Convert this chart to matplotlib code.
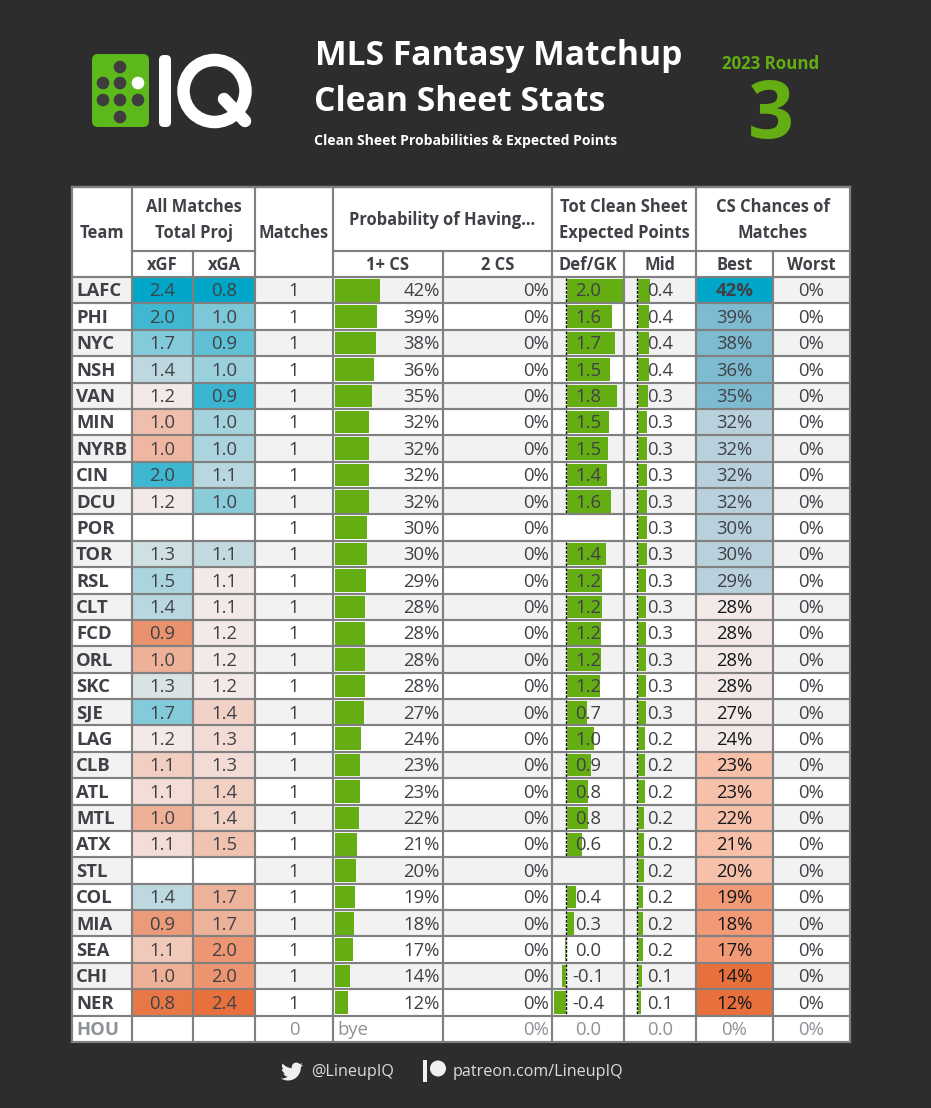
import numpy as np
import matplotlib
matplotlib.use('Agg')
import matplotlib.pyplot as plt
from matplotlib.colors import LinearSegmentedColormap, ListedColormap, BoundaryNorm
from matplotlib.patches import Rectangle, FancyBboxPatch, Circle, PathPatch
from matplotlib.path import Path

# Noto Sans has no bold cut here, Open Sans does
plt.rcParams['font.family'] = ['Open Sans', 'DejaVu Sans']

teams = ['LAFC', 'PHI', 'NYC', 'NSH', 'VAN', 'MIN', 'NYRB', 'CIN', 'DCU', 'POR', 'TOR', 'RSL', 'CLT', 'FCD', 'ORL',
         'SKC', 'SJE', 'LAG', 'CLB', 'ATL', 'MTL', 'ATX', 'STL', 'COL', 'MIA', 'SEA', 'CHI', 'NER', 'HOU']
xgf = [2.40, 2.00, 1.70, 1.40, 1.20, 1.02, 1.00, 2.02, 1.20, None, 1.30, 1.50, 1.42, 0.90, 0.98,
       1.27, 1.70, 1.20, 1.08, 1.14, 0.98, 1.14, None, 1.40, 0.92, 1.06, 0.98, 0.82, None]
xga = [0.80, 0.96, 0.92, 1.00, 0.88, 1.02, 1.04, 1.08, 0.98, None, 1.10, 1.14, 1.14, 1.18, 1.20,
       1.20, 1.38, 1.30, 1.30, 1.40, 1.40, 1.50, None, 1.70, 1.70, 1.98, 2.00, 2.40, None]
matches = [1] * 28 + [0]
cs_one = [42, 39, 38, 36, 35, 32, 32, 32, 32, 30, 30, 29, 28, 28, 28,
          28, 27, 24, 23, 23, 22, 21, 20, 19, 18, 17, 14, 12, 0]
cs_two = [0] * 29
def_gk = [2.00, 1.60, 1.70, 1.53, 1.77, 1.49, 1.46, 1.42, 1.56, None, 1.39, 1.25, 1.25, 1.22, 1.22,
          1.18, 0.73, 0.98, 0.87, 0.77, 0.77, 0.56, None, 0.36, 0.29, -0.03, -0.13, -0.40, None]
mid = [0.40, 0.37, 0.37, 0.36, 0.33, 0.31, 0.31, 0.31, 0.31, 0.31, 0.31, 0.28, 0.28, 0.28, 0.28,
       0.28, 0.28, 0.24, 0.24, 0.24, 0.22, 0.22, 0.20, 0.17, 0.17, 0.17, 0.14, 0.11, None]
worst = [0] * 29

BG = '#2d2d2d'
GRID = '#808080'
TXT = '#3f4146'
GREY_TXT = '#8e9196'
GREEN = '#64ae14'
LOGO_GREEN = '#5cb81b'
STRIPE = '#f2f2f2'
FS = 13.3
HFS = 11.9

# column edges and rows, in pixels of the final picture
X = [72, 132, 193, 255, 333, 443, 552, 624, 696, 773, 850]
Y_TOP, Y_MID, Y_HEAD, Y_BOT = 187, 251, 277, 1042
ROW_H = (Y_BOT - Y_HEAD) / len(teams)


def value_cmap(vals, cols):
    lo, hi = vals[0], vals[-1]
    nodes = [(v - lo) / (hi - lo) for v in vals]
    cm = LinearSegmentedColormap.from_list('heat', list(zip(nodes, cols)))
    return lambda v: cm((v - lo) / (hi - lo))


xgf_col = value_cmap([0.8, 0.9, 1.0, 1.1, 1.2, 1.3, 1.4, 1.5, 1.7, 2.0, 2.4],
                     ['#e8703c', '#ea9470', '#efb9a4', '#f3d5cb', '#f3eae8', '#cfe0e3', '#bdd8df', '#abd5de',
                      '#84cada', '#42b8d2', '#00a7c8'])
xga_col = value_cmap([0.8, 0.9, 1.0, 1.1, 1.14, 1.2, 1.3, 1.4, 1.5, 1.7, 2.0, 2.4],
                     ['#00a7c8', '#4fbbd3', '#9ed1dc', '#c1d9e0', '#f3eae8', '#f3eae8', '#f3dcd6', '#f2cfc3',
                      '#f0c3b1', '#edb29b', '#ec9470', '#e8703c'])
best_cmap = ListedColormap(['#e8703c', '#f29a76', '#f6c0a9', '#f3eae8', '#b9d1dc', '#7ebad0', '#00a7c8'])
best_norm = BoundaryNorm([0, 15, 19.5, 23.5, 28.5, 33, 40, 50], best_cmap.N)

fig = plt.figure(figsize=(9.31, 11.08), dpi=100, facecolor=BG)
ax = fig.add_axes([0, 0, 1, 1])
ax.set_xlim(0, 931)
ax.set_ylim(1108, 0)
ax.axis('off')


def cell(x0, x1, y0, y1, color, z=1):
    ax.add_patch(Rectangle((x0, y0), x1 - x0, y1 - y0, facecolor=color, edgecolor='none', zorder=z))


def put(x, y, s, ha='center', color=TXT, weight='normal', size=FS):
    ax.text(x, y, s, ha=ha, va='baseline', color=color, fontweight=weight, fontsize=size, zorder=6)


def fmt(v):
    s = f'{v:.1f}'
    return '0.0' if s == '-0.0' else s


def draw_logo():
    ax.add_patch(FancyBboxPatch((95, 57), 51, 67, boxstyle='round,pad=3,rounding_size=6',
                                facecolor=LOGO_GREEN, edgecolor='none'))
    for dx, dy in [(120, 67), (103, 83), (120, 83), (103, 100), (120, 100), (138, 100), (120, 117)]:
        ax.add_patch(Circle((dx, dy), 6.3, facecolor='#3d3d3d', edgecolor='none'))
    ax.add_patch(Circle((138, 83), 6.3, facecolor='white', edgecolor='none'))
    ax.add_patch(FancyBboxPatch((164, 60), 2, 62, boxstyle='round,pad=5,rounding_size=5',
                                facecolor='white', edgecolor='none'))
    ax.add_patch(Circle((214.5, 91), 31, facecolor='none', edgecolor='white', linewidth=9))
    ax.plot([224, 245], [99, 121], color='white', lw=9, solid_capstyle='round')


def draw_bird(x0, y0, k):
    M, L, C, Z = Path.MOVETO, Path.LINETO, Path.CURVE4, Path.CLOSEPOLY
    pts = [(23.95, 4.57), (21.13, 5.35), (23.29, 2.62), (22.34, 3.18), (21.29, 3.58), (20.16, 3.81),
           (16.71, 0.13), (10.65, 3.39), (11.78, 8.29), (7.69, 8.1), (4.07, 6.13), (1.64, 3.16),
           (0.97, 5.64), (0.97, 7.35), (1.84, 8.85), (3.16, 9.73), (0.93, 9.12), (0.93, 9.18),
           (0.93, 11.56), (2.63, 13.55), (4.88, 14.0), (2.67, 14.09), (3.3, 16.05), (5.1, 17.45), (7.27, 17.51),
           (5.6, 18.8), (3.5, 19.61), (1.17, 19.61), (0.78, 19.61), (0.39, 19.59), (0, 19.54),
           (2.2, 20.95), (4.8, 21.75), (7.56, 21.75), (16.61, 21.75), (21.56, 14.26), (21.56, 7.77),
           (21.56, 7.56), (21.56, 7.35), (21.54, 7.14), (22.5, 6.45), (23.35, 5.55), (23.95, 4.57), (23.95, 4.57)]
    codes = [M, L, L, C, C, C, C, C, C, C, C, C, L, C, C, C, L, L, C, C, C, L, C, C, C,
             C, C, C, C, C, C, C, C, C, C, C, C, C, C, C, C, C, C, Z]
    verts = [(x0 + px * k, y0 + py * k) for px, py in pts]
    ax.add_patch(PathPatch(Path(verts, codes), facecolor='#f0f0f0', edgecolor='none'))


# heading
draw_logo()
put(315, 65, 'MLS Fantasy Matchup', ha='left', color='white', weight='bold', size=24.2)
put(314, 111, 'Clean Sheet Stats', ha='left', color='white', weight='bold', size=24.2)
put(314, 145, 'Clean Sheet Probabilities & Expected Points', ha='left', color='white', weight='bold', size=10.1)
put(771, 69, '2023 Round', color=GREEN, weight='bold', size=12.2)
put(771, 138, '3', color=GREEN, weight='bold', size=58)

# table background
cell(X[0], X[-1], Y_TOP, Y_BOT, 'white')

DEF_ZERO, DEF_SCALE = 565.5, 29.0
MID_ZERO, MID_SCALE = 637.4, 31.0
CS_LEFT, CS_SCALE = 335, 1.07

for i, team in enumerate(teams):
    y0 = Y_HEAD + i * ROW_H
    y1 = y0 + ROW_H
    base = y0 + ROW_H / 2 + 6.3
    bye = matches[i] == 0
    col = GREY_TXT if bye else TXT
    if i % 2 == 0 and not bye:
        cell(X[0], X[-1], y0, y1, STRIPE)

    put(X[0] + 4, base, team, ha='left', color=col, weight='bold')

    for v, pick, x0, x1 in [(xgf[i], xgf_col, X[1], X[2]), (xga[i], xga_col, X[2], X[3])]:
        if v is None:
            cell(x0, x1, y0, y1, 'white', z=2)
        else:
            cell(x0, x1, y0, y1, pick(v), z=2)
            put((x0 + x1) / 2, base, f'{v:.1f}')

    put((X[3] + X[4]) / 2, base, str(matches[i]), color=col)

    if bye:
        put(X[4] + 4, base, 'bye', ha='left', color=col)
    else:
        cell(CS_LEFT, CS_LEFT + cs_one[i] * CS_SCALE, y0 + 2, y1 - 1.8, GREEN, z=3)
        put(X[5] - 3.5, base, f'{cs_one[i]}%', ha='right', color=col)
    put(X[6] - 3.5, base, f'{cs_two[i]}%', ha='right', color=col)

    # expected points bars start from a dashed zero line
    for v, zero, scale, xc in [(def_gk[i], DEF_ZERO, DEF_SCALE, (X[6] + X[7]) / 2),
                               (mid[i], MID_ZERO, MID_SCALE, (X[7] + X[8]) / 2)]:
        if v is not None:
            cell(zero, zero + v * scale, y0 + 2, y1 - 1.8, GREEN, z=3)
            ax.plot([zero, zero], [y0 + 1, y1 - 1], color='white', lw=1, zorder=4)
            ax.plot([zero, zero], [y0 + 1, y1 - 1], color='black', lw=1, dashes=(2, 1), zorder=4.5)
            put(xc, base, fmt(v))
        elif bye:
            put(xc, base, '0.0', color=col)

    best_col = TXT
    if bye:
        best_col = col
    else:
        cell(X[8], X[9], y0, y1, best_cmap(best_norm(cs_one[i])), z=2)
        if cs_one[i] <= 28:
            best_col = '#14161a'
    put((X[8] + X[9]) / 2, base, f'{cs_one[i]}%', color=best_col, weight='bold' if cs_one[i] == 42 else 'normal')
    put((X[9] + X[10]) / 2, base, f'{worst[i]}%', color=col)

# header text
put((X[0] + X[1]) / 2, 238, 'Team', weight='bold', size=HFS)
put((X[1] + X[3]) / 2, 212, 'All Matches', weight='bold', size=HFS)
put((X[1] + X[3]) / 2, 238, 'Total Proj', weight='bold', size=HFS)
put((X[3] + X[4]) / 2, 238, 'Matches', weight='bold', size=HFS)
put((X[4] + X[6]) / 2, 225, 'Probability of Having…', weight='bold', size=HFS)
put((X[6] + X[8]) / 2, 212, 'Tot Clean Sheet', weight='bold', size=HFS)
put((X[6] + X[8]) / 2, 238, 'Expected Points', weight='bold', size=HFS)
put((X[8] + X[10]) / 2, 212, 'CS Chances of', weight='bold', size=HFS)
put((X[8] + X[10]) / 2, 238, 'Matches', weight='bold', size=HFS)
sub_heads = ['xGF', 'xGA', None, '1+ CS', '2 CS', 'Def/GK', 'Mid', 'Best', 'Worst']
for j, head in enumerate(sub_heads):
    if head:
        put((X[j + 1] + X[j + 2]) / 2, 270, head, weight='bold', size=HFS)

# grid
LW = 1.55
for i in range(len(teams) + 1):
    yy = Y_HEAD + i * ROW_H
    ax.plot([X[0], X[-1]], [yy, yy], color=GRID, lw=LW, zorder=5, solid_capstyle='projecting')
for x0, x1 in [(X[1], X[3]), (X[4], X[-1])]:
    ax.plot([x0, x1], [Y_MID, Y_MID], color=GRID, lw=LW, zorder=5)
ax.plot([X[0], X[-1]], [Y_TOP, Y_TOP], color=GRID, lw=LW + 0.2, zorder=5, solid_capstyle='projecting')
for j in [0, 1, 3, 4, 6, 8, 10]:
    ax.plot([X[j], X[j]], [Y_TOP, Y_BOT], color=GRID, lw=LW, zorder=5, solid_capstyle='projecting')
for j in [2, 5, 7, 9]:
    ax.plot([X[j], X[j]], [Y_MID, Y_BOT], color=GRID, lw=LW, zorder=5)

# footer
draw_bird(281, 1060.5, 0.92)
put(311, 1076, '@LineupIQ', ha='left', color='#dcdcdc', size=11.6)
ax.add_patch(Rectangle((423, 1060), 4, 22, facecolor='#f0f0f0', edgecolor='none'))
ax.add_patch(Circle((438, 1068.5), 8, facecolor='#f0f0f0', edgecolor='none'))
put(453, 1076, 'patreon.com/LineupIQ', ha='left', color='#dcdcdc', size=11.6)

fig.savefig('out.png', dpi=100, facecolor=BG)
